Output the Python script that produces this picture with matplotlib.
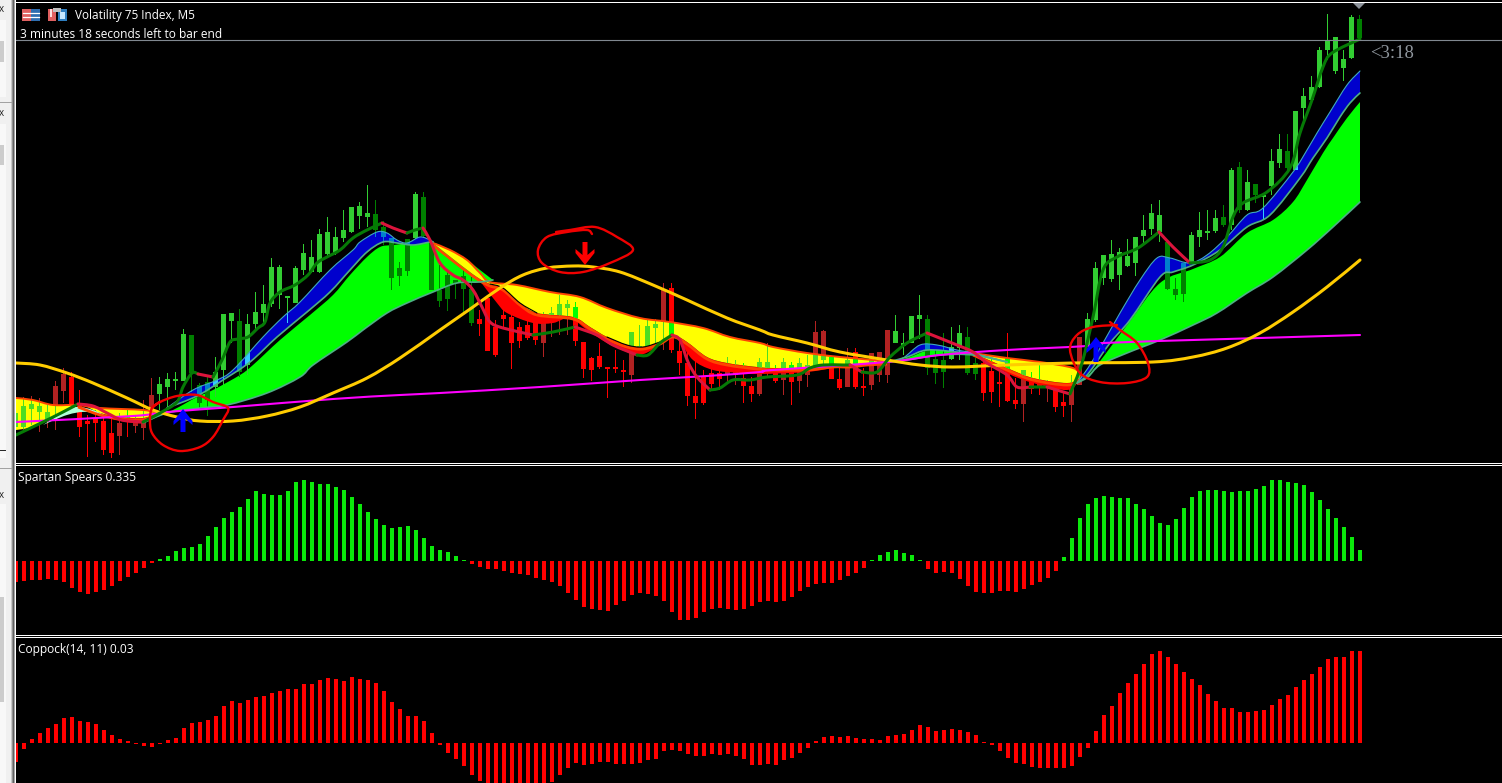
import matplotlib
matplotlib.use("Agg")
import matplotlib.pyplot as plt
import numpy as np
from matplotlib.patches import Rectangle, Polygon, PathPatch
from matplotlib.path import Path
from matplotlib.transforms import offset_copy

W, H = 1502, 783
plt.rcParams['font.family'] = ['Open Sans', 'DejaVu Sans']

body_top = [413,406,404,406,412,386,374,377,405,421,
            418,421,433,423,416,422,420,395,384,379,
            379,334,335,385,382,372,314,313,321,324,
            312,304,267,267,296,268,253,257,234,232,
            237,230,207,206,213,214,227,238,268,239,
            194,197,242,290,275,280,276,289,319,298,
            327,315,317,327,325,322,317,313,304,304,
            307,342,358,356,367,367,370,332,346,326,
            324,290,288,351,363,396,377,373,373,365,
            367,378,386,362,362,370,362,365,363,365,
            332,331,357,379,360,352,386,353,352,330,
            331,343,316,315,319,359,360,347,333,337,
            363,363,371,382,358,400,370,378,383,385,
            386,402,385,337,319,268,255,254,252,256,
            237,230,213,215,242,289,263,235,230,231,
            218,217,170,167,182,184,195,161,149,151,
            111,96,87,50,41,37,59,17,19]
body_bot = [427,427,409,412,420,405,391,405,427,424,
            423,450,453,436,422,426,428,410,394,387,
            381,381,373,403,400,387,370,321,372,365,
            324,313,304,295,297,303,270,272,272,254,
            253,238,232,216,217,230,237,278,276,271,
            238,236,290,301,299,283,289,323,324,351,
            355,319,343,341,338,340,343,317,315,308,
            341,369,370,367,368,369,371,375,347,346,
            328,322,350,363,396,403,403,384,379,375,
            375,386,394,394,368,381,380,382,381,375,
            366,360,379,388,387,387,388,385,375,375,
            343,346,343,319,368,373,372,359,348,373,
            374,393,392,383,401,404,404,389,387,388,
            407,406,405,385,345,320,278,279,275,266,
            263,236,229,232,289,295,294,262,237,232,
            231,225,225,210,210,195,196,186,163,168,
            170,108,100,87,50,71,68,58,38]
wick_hi = [405,397,396,398,405,381,368,372,390,415,
           410,418,417,413,410,415,400,378,377,373,
           372,329,335,383,375,357,314,313,309,314,
           292,285,258,265,296,266,244,240,229,217,
           227,210,207,202,185,200,221,238,262,239,
           192,192,242,265,270,280,270,277,310,298,
           320,303,315,322,312,313,312,307,295,300,
           302,342,357,343,367,350,360,332,325,320,
           319,283,283,340,348,360,370,368,368,357,
           360,363,377,358,343,365,358,362,358,355,
           321,330,357,367,348,348,368,353,352,330,
           315,333,316,295,315,350,333,327,325,327,
           358,358,358,370,333,378,370,372,365,380,
           383,393,375,337,313,262,255,240,248,239,
           237,215,204,200,242,278,263,232,212,210,
           210,205,168,162,170,184,193,149,134,134,
           111,88,76,47,14,37,50,15,15]
wick_lo = [432,430,425,432,428,430,403,408,437,457,
           442,455,458,455,437,433,440,417,410,410,
           390,381,392,408,416,397,385,343,377,375,
           332,323,307,309,323,303,275,273,273,257,
           255,242,233,229,227,237,245,290,286,276,
           239,238,290,307,311,299,315,326,336,351,
           357,328,369,348,340,345,357,337,335,335,
           346,378,381,369,398,373,387,383,355,352,
           346,350,353,375,406,419,405,390,390,382,
           385,403,402,396,377,383,395,405,393,387,
           370,367,379,390,387,389,396,390,382,383,
           343,355,343,339,375,384,388,360,360,375,
           380,401,403,407,402,409,422,394,395,402,
           412,417,422,385,345,322,285,282,290,267,
           276,245,235,242,290,300,302,263,247,240,
           233,227,230,213,211,203,220,195,168,170,
           170,120,102,88,60,74,81,59,40]
candle_kind = ("FFFFFFFRRR" "RRRFRFFFLL" "LLDDDLLLDL" "LLLLLLLLLL" "LLLLLDDDDD"
               "LDDDDDDDRR" "RRRRRRFFFF" "RRRRRRRFFF" "FFRRRRRRRF" "FRRFFRFRFF"
               "FFRRFRRFFF" "LLLLDDDLLD" "DRRRRRFRRF" "RRFFLLLLLL" "LLLLDDDLLL"
               "LDLDLDLLLD" "LLLLLLLLD")

spartan = [-62,-60,-57,-57,-54,-57,-63,-81,-93,-99,-93,-87,-75,-60,-48,-36,-21,-6,6,15,30,39,42,51,75,102,129,147,162,186,
           210,201,199,198,210,237,243,237,232,231,222,213,192,171,147,126,108,99,102,105,93,69,45,33,27,15,3,-8,-18,-24,
           -24,-30,-36,-39,-42,-51,-57,-63,-75,-96,-117,-138,-144,-147,-150,-132,-120,-102,-96,-99,-105,-120,-153,-177,-177,-171,
           -153,-144,-141,-144,-147,-144,-135,-123,-120,-123,-120,-108,-90,-78,-69,-66,-66,-57,-45,-36,-21,3,18,27,33,24,18,2,
           -24,-36,-33,-36,-54,-75,-93,-96,-96,-90,-90,-93,-84,-72,-63,-51,-30,12,69,129,171,189,195,192,189,189,171,156,135,114,
           108,126,159,192,210,213,213,210,207,210,210,216,225,243,243,237,234,228,207,183,156,129,102,72,33]
coppock = [-56,-18,11,30,45,57,75,78,66,63,57,39,24,12,6,-2,-8,-12,-2,9,15,45,60,63,69,81,111,126,120,129,
           138,141,150,156,162,162,177,177,189,195,192,186,198,192,189,180,156,123,102,81,81,66,30,-6,-30,-48,-69,-96,-114,-126,
           -141,-151,-151,-136,-136,-126,-126,-117,-96,-75,-60,-66,-63,-57,-57,-63,-63,-63,-60,-51,-48,-24,-21,-24,-33,-39,
           -39,-33,-36,-33,-39,-48,-66,-66,-63,-66,-51,-45,-30,-15,6,18,21,18,21,15,12,12,9,21,24,27,39,54,48,36,39,42,39,33,24,3,
           -6,-24,-45,-60,-63,-72,-75,-75,-75,-75,-69,-42,-15,36,84,111,150,180,207,237,267,276,258,237,213,192,174,147,126,105,
           105,93,93,96,99,114,132,144,168,189,207,228,252,258,258,276,276]

g1_top_x = [143,173,197,213,240,253,280,310,333,350,367,380,393,430,447,463,480,493]
g1_top_y = [423,410,397,390,375,365,340,315,295,275,257,247,245,242,250,257,270,280]
g1_bot_x = [143,167,200,227,267,300,313,347,363,387,407,433,457,480,493]
g1_bot_y = [423,413,408,405,393,377,365,342,330,313,303,292,283,282,280]
b1_top_x = [167,193,217,233,263,283,300,330,353,360,377,387,397,407,420,430,433]
b1_top_y = [408,390,380,370,337,317,302,270,250,242,232,233,240,243,237,240,242]
b1_mid_x = [167,197,223,250,277,307,330,350,367,383,397,413,430,433]
b1_mid_y = [408,396,380,362,337,312,292,270,252,242,243,245,242,242]
g2_top_x = [888,907,930,957,973,1007]
g2_top_y = [362,358,350,352,354,362]
g2_bot_x = [888,907,940,973,1007]
g2_bot_y = [362,360,355,355,362]
b2_top_x = [888,903,920,937,957,973,1007]
b2_top_y = [362,358,345,345,350,353,362]
b2_mid_x = [888,907,927,957,973,1007]
b2_mid_y = [362,357,350,352,354,362]
g3_top_x = [1077,1093,1127,1160,1193,1220,1247,1273,1293,1307,1323,1333,1347,1360]
g3_top_y = [383,370,325,283,269,257,233,220,202,180,153,138,118,102]
g3_bot_x = [1077,1088,1100,1127,1160,1193,1217,1247,1273,1307,1333,1360]
g3_bot_y = [383,377,365,353,340,325,313,293,277,250,227,202]
b3_top_x = [1077,1088,1103,1120,1140,1157,1170,1190,1207,1227,1247,1263,1293,1307,1317,1330,1347,1360]
b3_top_y = [383,368,343,313,280,258,258,263,255,237,215,208,172,150,133,112,85,71]
b3_mid_x = [1077,1088,1110,1130,1160,1173,1193,1220,1247,1270,1300,1313,1327,1340,1350,1360]
b3_mid_y = [383,374,343,320,277,272,265,250,227,215,178,158,138,117,103,93]

y0_top_x = [16,33,53,77,100,143,157]
y0_top_y = [398,400,405,405,408,410,413]
y0_low_x = [16,33,53,78,100,120,143,157]
y0_low_y = [430,427,418,405,413,417,418,413]
r0_low_x = [78,100,120,143,157]
r0_low_y = [405,415,421,423,413]
y1_top_x = [433,450,467,480,490,517,550,580,607,640,670,703,730,760,773,807,840,873,887]
y1_top_y = [243,250,260,273,282,285,292,297,308,318,322,328,337,343,347,353,357,360,362]
y1_low_x = [433,457,477,490,503,520,537,573,590,607,627,643,660,673,687,707,727,757,773,807,833,850,867,887]
y1_low_y = [243,262,277,284,288,303,313,317,327,337,345,347,342,335,342,357,363,367,368,368,365,365,363,362]
r1_low_x = [433,457,477,483,497,507,533,553,570,587,607,627,640,655,670,680,693,713,740,760,807,840,887]
r1_low_y = [243,262,278,285,303,313,323,323,318,330,343,352,355,348,335,342,360,370,373,374,372,367,362]
y2_top_x = [973,1007,1040,1073,1080]
y2_top_y = [353,358,362,368,375]
y2_low_x = [973,1007,1033,1067,1080]
y2_low_y = [353,368,378,383,378]
r2_low_x = [973,1007,1033,1067,1080]
r2_low_y = [353,373,383,390,380]
aqua_top_x = [43,67,78,93,110]
aqua_top_y = [425,410,407,410,418]
aqua_low_x = [43,67,87,110]
aqua_low_y = [425,415,412,418]

gold_x = [16,40,67,93,127,153,177,200,233,267,300,333,367,400,440,473,500,523,547,573,593,620,653,687,727,760,773,807,840,887,920,953,1007,1073,1153,1193,1227,1260,1293,1327,1360]
gold_y = [363,365,373,383,398,410,417,421,421,416,407,393,378,358,330,307,288,275,268,266,267,272,285,300,318,330,335,343,352,360,365,367,365,363,362,357,348,333,312,287,260]
magenta_x = [16,133,167,233,333,400,440,540,640,707,760,773,887,940,1007,1087,1103,1227,1360]
magenta_y = [422,416,412,407,399,395,393,387,380,376,372,370,362,355,350,346,343,339,335]

signal_pieces = [
 ('g',[16,43,63,78],[435,422,412,404]),
 ('r',[78,93,107,122,143],[404,406,413,420,422]),
 ('g',[143,160,177,183,192,198],[422,413,402,387,373,374]),
 ('r',[198,213],[374,377]),
 ('g',[213,222,230,238,248,258,265,270,280,295,308,317,327,340,353,367,382],[377,360,342,339,337,328,322,303,292,285,275,263,257,250,238,230,223]),
 ('r',[382,393,407],[223,228,233]),
 ('g',[407,415,423],[233,230,228]),
 ('r',[423,430,440,453,463,473,482,490,503,533],[228,240,263,275,280,290,307,322,328,335]),
 ('g',[533,553,575],[335,332,327]),
 ('r',[575,597,613,637],[327,335,345,355]),
 ('g',[637,648,660,672],[355,355,343,335]),
 ('r',[672,680,688,697,710],[335,340,362,377,390]),
 ('g',[710,720,733,750,767,797,810,823,843,850],[390,388,380,380,377,375,368,365,365,365]),
 ('r',[850,862],[365,372]),
 ('g',[862,877,890,907,927],[372,372,357,343,333]),
 ('r',[927,957,973,987,1007,1017,1030],[333,345,352,363,375,387,387]),
 ('g',[1030,1047],[387,387]),
 ('r',[1047,1070],[387,394]),
 ('g',[1070,1082,1093,1103,1117,1138,1159],[394,363,317,270,257,248,232]),
 ('r',[1159,1173,1190],[232,247,263]),
 ('g',[1190,1210,1223,1233,1243,1267,1290,1300,1312,1323,1332,1360],[263,260,247,217,203,192,168,133,100,67,53,39]),
]

ring1_x = [152,160,177,197,213,228,223,213,200,180,163,152,150,152,160]
ring1_y = [408,402,396,395,402,408,420,437,447,451,445,433,420,408,402]
ring2_x = [592,587,567,547,538,542,560,583,610,633,617,595,570,556]
ring2_y = [234,230,232,237,250,263,272,272,263,250,237,227,230,232]
ring3_x = [1110,1120,1137,1148,1147,1127,1100,1080,1070,1077,1093,1117]
ring3_y = [322,330,343,363,377,383,382,373,350,335,327,325]
up_arrow_x = [183,1096]
up_arrow_tip = [409,337]
up_arrow_end = [432,362]
down_arrow_x = [585]
down_arrow_tip = [265]
down_arrow_end = [242]

fig = plt.figure(figsize=(W/100, H/100), dpi=100, facecolor='#F0F0F0')

def panel(x0, y0, x1, y1):
    ax = fig.add_axes([x0/W, 1-y1/H, (x1-x0)/W, (y1-y0)/H], facecolor='black')
    ax.set_xticks([]); ax.set_yticks([])
    for s in ax.spines.values():
        s.set_visible(False)
    return ax

bg = fig.add_axes([0, 0, 1, 1], facecolor='#F0F0F0')
bg.set_xlim(0, W); bg.set_ylim(H, 0); bg.axis('off')
def box(x, y, w, h, c):
    bg.add_patch(Rectangle((x, y), w, h, color=c, lw=0))
box(0, 0, W, H, '#F0F0F0')
for (y_a, y_b) in [(20, 97), (124, 458), (504, H)]:
    box(0, y_a, 6, y_b-y_a, '#F8F8F8')
for (y_a, y_b) in [(41, 62), (145, 165), (597, 702)]:
    box(0, y_a, 4, y_b-y_a, '#CCCCCC')
box(11, 0, 1, H, '#C8C8C8'); box(12, 0, 1, H, '#909090'); box(13, 0, 1, H, '#606060'); box(14, 0, 1, H, '#A8A8A8')
box(15, 0, W, H, 'white')
box(16, 0, W, 2, 'black')
box(16, 464, W, 1.2, 'black')
box(16, 636, W, 1.2, 'black')
for yy in [102, 468]:
    bg.plot([0, 11], [yy, yy], color='#A0A0A0', lw=0.7)
bg.plot([0, 5], [450, 450], color='#222222', lw=0.7)
for yy in [10, 114, 495]:
    bg.text(-1, yy, 'x', fontsize=7, color='#222222', va='center', ha='left')

ax = panel(16, 3, W, 463)
ax.set_xlim(16, W); ax.set_ylim(463, 3)
ax2 = panel(16, 466, W, 635)
ax2.set_xlim(16, W); ax2.set_ylim(-222, 285)
ax3 = panel(16, 638, W, H)
ax3.set_xlim(16, W); ax3.set_ylim(-120, 315)

bar_x = np.array([15.5 + 8*i for i in range(len(spartan))])

ax2.bar(bar_x, spartan, width=4, color=['#0BE80B' if v > 0 else '#FF0000' for v in spartan], linewidth=0, antialiased=False)
ax3.bar(bar_x, coppock, width=4, color='#FF0000', linewidth=0, antialiased=False)

def curve(xs, ys):
    p = np.column_stack([xs, ys]).astype(float)
    q = np.vstack([p[0], p, p[-1]])
    verts, codes = [], []
    for i in range(1, len(q)-2):
        verts += [q[i] + (q[i+1]-q[i-1])/6, q[i+1] - (q[i+2]-q[i])/6, q[i+1]]
        codes += [Path.CURVE4]*3
    return verts, codes

def line_path(xs, ys):
    v, c = curve(xs, ys)
    return Path([(xs[0], ys[0])] + v, [Path.MOVETO] + c)

def band_path(pairs):
    verts, codes = [], []
    for xa, ya, xb, yb in pairs:
        v1, c1 = curve(xa, ya)
        v2, c2 = curve(list(xb)[::-1], list(yb)[::-1])
        verts += [(xa[0], ya[0])] + v1 + [(xb[-1], yb[-1])] + v2 + [(xa[0], ya[0])]
        codes += [Path.MOVETO] + c1 + [Path.LINETO] + c2 + [Path.CLOSEPOLY]
    return Path(verts, codes)

def stroke(xs, ys, color, lw, z, **kw):
    ax.add_patch(PathPatch(line_path(xs, ys), fc='none', ec=color, lw=lw, zorder=z, capstyle='round', joinstyle='round', **kw))

KIND = {'L': '#32CD32', 'D': '#008000', 'R': '#FF0000', 'F': '#B22222'}

def draw_candles(kinds, colors, z, clip=None):
    for k in kinds:
        idx = [i for i, c in enumerate(candle_kind) if c == k]
        xs = bar_x[idx]
        lo = np.array(wick_hi)[idx]
        wh = np.array(wick_lo)[idx] - lo
        wicks = ax.bar(xs, wh, bottom=lo, width=1, color=colors[k], lw=0, zorder=z, antialiased=False)
        hh = np.maximum(np.array(body_bot)[idx]-np.array(body_top)[idx], 1.5)
        bars = ax.bar(xs, hh, bottom=np.array(body_top)[idx], width=5, color=colors[k], lw=0, zorder=z, antialiased=False)
        if clip is not None:
            for b in list(wicks) + list(bars):
                b.set_clip_path(clip)

green_sets = [(g1_top_x, g1_top_y, g1_bot_x, g1_bot_y), (g2_top_x, g2_top_y, g2_bot_x, g2_bot_y), (g3_top_x, g3_top_y, g3_bot_x, g3_bot_y)]
blue_sets = [(b1_top_x, b1_top_y, b1_mid_x, b1_mid_y), (b2_top_x, b2_top_y, b2_mid_x, b2_mid_y), (b3_top_x, b3_top_y, b3_mid_x, b3_mid_y)]
yellow_sets = [(y0_top_x, y0_top_y, y0_low_x, y0_low_y), (y1_top_x, y1_top_y, y1_low_x, y1_low_y), (y2_top_x, y2_top_y, y2_low_x, y2_low_y)]
red_sets = [(y0_low_x[3:], y0_low_y[3:], r0_low_x, r0_low_y), (y1_low_x, y1_low_y, r1_low_x, r1_low_y), (y2_low_x, y2_low_y, r2_low_x, r2_low_y)]

ax.add_patch(PathPatch(band_path(green_sets), fc='#00FF00', ec='none', lw=0, zorder=1))
draw_candles('LDRF', KIND, 2)
ax.add_patch(PathPatch(band_path(red_sets), fc='#FF0000', ec='none', lw=0, zorder=3))
ax.add_patch(PathPatch(band_path(blue_sets), fc='#0000CD', ec='none', lw=0, zorder=3))
ax.add_patch(PathPatch(band_path(yellow_sets), fc='#FFFF00', ec='none', lw=0, zorder=3))
ax.add_patch(PathPatch(band_path([(aqua_top_x, aqua_top_y, aqua_low_x, aqua_low_y)]), fc='#AFFFD8', ec='none', lw=0, zorder=4))

clip_y = PathPatch(band_path(yellow_sets), transform=ax.transData, visible=False); ax.add_patch(clip_y)
draw_candles('RF', {'R': '#00FF00', 'F': '#4DDD22'}, 3.5, clip=clip_y)
clip_b = PathPatch(band_path(blue_sets), transform=ax.transData, visible=False); ax.add_patch(clip_b)
draw_candles('LD', {'L': '#32CDFF', 'D': '#0080CD'}, 3.5, clip=clip_b)

down2 = offset_copy(ax.transData, fig=fig, x=0, y=-2, units='dots')
for xa, ya in [(y0_top_x, y0_top_y), (y1_top_x, y1_top_y), (y2_top_x, y2_top_y)]:
    stroke(xa, ya, '#FF4500', 1.4, 5)
for xa, ya in [(y0_low_x[3:], y0_low_y[3:]), (y1_low_x, y1_low_y), (y2_low_x, y2_low_y)]:
    ax.add_patch(PathPatch(line_path(xa, ya), fc='none', ec='#FF4500', lw=2.0, zorder=5, transform=down2))
# the thin dark seam only shows on two stretches of the long falling band
stroke(y1_low_x[3:7], y1_low_y[3:7], 'black', 0.8, 5.1)
stroke(y1_low_x[9:13], y1_low_y[9:13], 'black', 0.8, 5.1)
for xa, ya in [(b1_top_x, b1_top_y), (b2_top_x, b2_top_y), (b3_top_x, b3_top_y)]:
    stroke(xa, ya, '#3FA9C0', 0.8, 5)
for xa, ya in [(b1_mid_x, b1_mid_y), (b2_mid_x, b2_mid_y), (b3_mid_x, b3_mid_y),
               (g1_bot_x, g1_bot_y), (g2_bot_x, g2_bot_y), (g3_bot_x, g3_bot_y)]:
    stroke(xa, ya, '#4DAF84', 1.2, 5)

stroke(magenta_x, magenta_y, '#FF00FF', 1.5, 6)
stroke(gold_x, gold_y, '#FFCC00', 2.2, 6)

SIG = {'g': '#067A06', 'r': '#DC143C'}
for key, xs, ys in signal_pieces:
    stroke(xs, ys, SIG[key], 2.2, 6.5)

for xs, ys in [(ring1_x, ring1_y), (ring2_x, ring2_y), (ring3_x, ring3_y)]:
    stroke(xs, ys, '#F00000', 1.7, 8)

def arrow(x, tip, end, color):
    s = 1 if end > tip else -1
    ax.add_patch(Polygon([(x, tip), (x+9.5, tip+s*12), (x+9.5, tip+s*16), (x+2.5, tip+s*10), (x+2.5, end),
                          (x-2.5, end), (x-2.5, tip+s*10), (x-9.5, tip+s*16), (x-9.5, tip+s*12)],
                         closed=True, fc=color, ec='none', lw=0, zorder=9))

for x, t, e in zip(up_arrow_x, up_arrow_tip, up_arrow_end):
    arrow(x, t, e, '#0000FF')
for x, t, e in zip(down_arrow_x, down_arrow_tip, down_arrow_end):
    arrow(x, t, e, '#FF0000')

ax.axhline(39.5, color='#808890', lw=0.8, zorder=7)
ax.add_patch(Polygon([(1353, 3), (1365, 3), (1359, 9)], closed=True, fc='#8C929A', ec='none', lw=0, zorder=7))
ax.text(1370, 54, '<3:18', color='#8E959C', fontsize=13.5, family=['Liberation Serif'], va='center', ha='left', zorder=10)

ax.text(75, 16, 'Volatility 75 Index, M5', color='white', fontsize=8.5, va='center', ha='left', zorder=10)
ax.text(20, 35, '3 minutes 18 seconds left to bar end', color='white', fontsize=8.6, va='center', ha='left', zorder=10)
ax.add_patch(Rectangle((22, 9), 9, 12, fc='#E06060', ec='none', zorder=10))
ax.add_patch(Rectangle((31, 9), 9, 12, fc='#2E6EB0', ec='none', zorder=10))
for yy in [12.5, 16.5]:
    ax.plot([23, 39], [yy, yy], color='white', lw=0.9, zorder=11)
ax.add_patch(Rectangle((48, 9), 8, 12, fc='#E06060', ec='none', zorder=10))
ax.add_patch(Rectangle((58, 9), 9, 12, fc='#2E7EC0', ec='none', zorder=10))
ax.add_patch(Rectangle((50, 9), 2, 8, fc='#FFE0E0', ec='none', zorder=11))
ax.add_patch(Rectangle((60, 12), 5, 7, fc='#C8E8FF', ec='none', zorder=11))
ax.add_patch(Rectangle((53, 8), 8, 4, fc='#C0C0C0', ec='none', zorder=11))

ax2.text(0.0015, 0.93, 'Spartan Spears 0.335', transform=ax2.transAxes, color='white', fontsize=8.6, va='center', ha='left')
ax3.text(0.0015, 0.92, 'Coppock(14, 11) 0.03', transform=ax3.transAxes, color='white', fontsize=8.6, va='center', ha='left')

fig.savefig('out.png', dpi=100, facecolor=fig.get_facecolor())
